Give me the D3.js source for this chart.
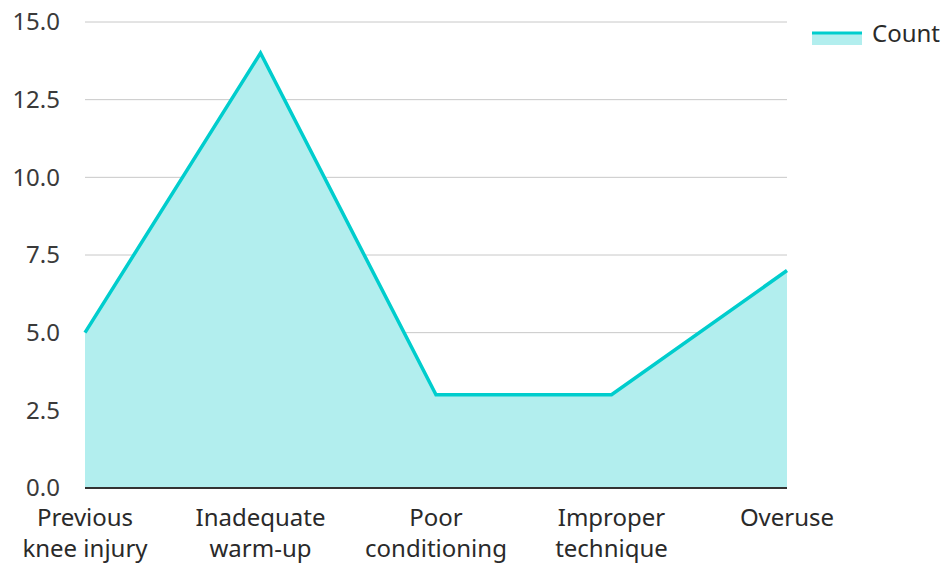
<!DOCTYPE html>
<html>
<head>
<meta charset="utf-8">
<script src="https://cdn.jsdelivr.net/npm/d3@7/dist/d3.min.js"></script>
<style>
  html, body { margin: 0; padding: 0; background: #fff; }
  text { font-family: "Noto Sans", sans-serif; }
</style>
</head>
<body>
<svg id="chart" width="944" height="563"></svg>
<script>
const categories = [["Previous", "knee injury"], ["Inadequate", "warm-up"], ["Poor", "conditioning"], ["Improper", "technique"], ["Overuse"]];
const counts = [5, 14, 3, 3, 7];
const yTicks = [0, 2.5, 5, 7.5, 10, 12.5, 15];
const seriesName = "Count";

const lineColor = "#00cdcd";
const fillColor = "#b2eeee";

const svg = d3.select("#chart");
const margin = { left: 85, right: 157, top: 22, bottom: 75 };
const width = 944, height = 563;

const x = d3.scalePoint()
  .domain(d3.range(categories.length))
  .range([margin.left, width - margin.right]);
const y = d3.scaleLinear()
  .domain([0, 15])
  .range([height - margin.bottom, margin.top]);

// horizontal gridlines
svg.append("g")
  .selectAll("line")
  .data(yTicks.filter(t => t > 0))
  .join("line")
  .attr("x1", margin.left).attr("x2", width - margin.right)
  .attr("y1", d => y(d)).attr("y2", d => y(d))
  .attr("stroke", "#c8c8c8").attr("stroke-width", 1);

// y tick labels
const yAxis = d3.axisLeft(y).tickValues(yTicks).tickFormat(d3.format(".1f")).tickSize(0).tickPadding(25);
const gy = svg.append("g").attr("transform", `translate(${margin.left},0)`).call(yAxis);
gy.select(".domain").remove();
gy.selectAll("text").attr("font-size", 24).attr("fill", "#3a3a3a").attr("font-family", "Noto Sans, sans-serif");

// area + line
const area = d3.area()
  .x((d, i) => x(i))
  .y0(y(0))
  .y1(d => y(d));
const line = d3.line()
  .x((d, i) => x(i))
  .y(d => y(d));

svg.append("path").datum(counts).attr("d", area).attr("fill", fillColor);
svg.append("path").datum(counts).attr("d", line)
  .attr("fill", "none").attr("stroke", lineColor).attr("stroke-width", 3.5)
  .attr("stroke-linejoin", "miter");

// x axis baseline and labels
svg.append("line")
  .attr("x1", margin.left).attr("x2", width - margin.right)
  .attr("y1", y(0)).attr("y2", y(0))
  .attr("stroke", "#333").attr("stroke-width", 2);

const xl = svg.append("g").selectAll("text")
  .data(categories)
  .join("text")
  .attr("x", (d, i) => x(i))
  .attr("y", y(0) + 38)
  .attr("text-anchor", "middle")
  .attr("font-size", 24)
  .attr("fill", "#2a2a2a");
xl.selectAll("tspan")
  .data(d => d)
  .join("tspan")
  .attr("x", function() { return d3.select(this.parentNode).attr("x"); })
  .attr("dy", (d, i) => i === 0 ? 0 : 31)
  .text(d => d);

// legend
const lg = svg.append("g").attr("transform", "translate(812,33)");
lg.append("rect").attr("x", 0).attr("y", 0).attr("width", 50).attr("height", 12).attr("fill", fillColor);
lg.append("line").attr("x1", 0).attr("x2", 50).attr("y1", 0).attr("y2", 0)
  .attr("stroke", lineColor).attr("stroke-width", 3);
lg.append("text").attr("x", 60).attr("y", 9).attr("font-size", 24).attr("fill", "#2a2a2a").text(seriesName);
</script>
</body>
</html>
